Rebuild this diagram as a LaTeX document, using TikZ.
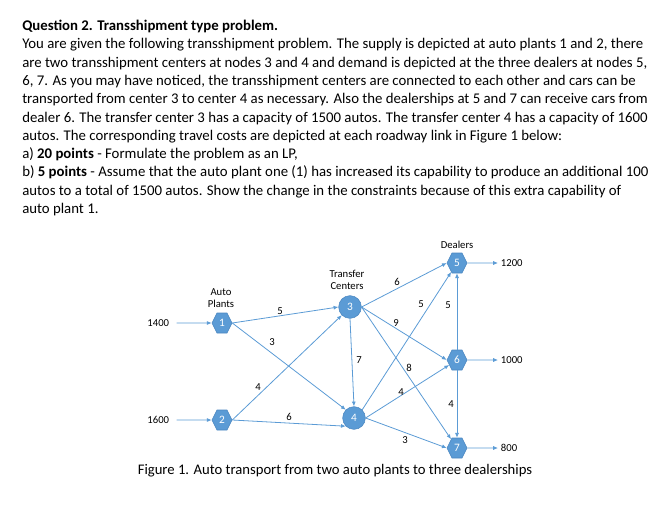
\documentclass[tikz,border=0pt]{standalone}
\usepackage{fontspec}
\setmainfont{Carlito}
\usetikzlibrary{shapes.symbols,arrows.meta}

\definecolor{officeblau}{HTML}{5B9BD5}
\definecolor{officerand}{HTML}{4A86C0}

\begin{document}
\begin{tikzpicture}[x=0.75pt, y=-0.75pt,
        every node/.style={font=\fontsize{8}{9}\selectfont},
        knoten/.style={fill=officeblau, draw=officerand, line width=0.4pt,
                       inner sep=0pt, text=white, font=\fontsize{8.5}{9}\selectfont},
        werk/.style={knoten, signal, signal to=east and west, signal pointer angle=127,
                     minimum width=15pt, minimum height=15pt},
        zentrum/.style={knoten, circle, minimum size=17pt},
        menge/.style={inner sep=2pt},
        kante/.style={draw=officeblau, line width=0.6pt,
                      -{Latex[length=3.6pt,width=3pt]}}
    ]
        \useasboundingbox (0,0) rectangle (671,506);

        \node[anchor=north west, inner sep=0pt, align=left,
              font=\fontsize{11.1}{13.7}\selectfont] (frage) at (22,20)
            {\textbf{Question 2. Transshipment type problem.}\\
             You are given the following transshipment problem. The supply is depicted at auto plants 1 and 2, there\\
             are two transshipment centers at nodes 3 and 4 and demand is depicted at the three dealers at nodes 5,\\
             6, 7. As you may have noticed, the transshipment centers are connected to each other and cars can be\\
             transported from center 3 to center 4 as necessary. Also the dealerships at 5 and 7 can receive cars from\\
             dealer 6. The transfer center 3 has a capacity of 1500 autos. The transfer center 4 has a capacity of 1600\\
             autos. The corresponding travel costs are depicted at each roadway link in Figure 1 below:\\
             a) \textbf{20 points} - Formulate the problem as an LP,\\
             b) \textbf{5 points} - Assume that the auto plant one (1) has increased its capability to produce an additional 100\\
             autos to a total of 1500 autos. Show the change in the constraints because of this extra capability of\\
             auto plant 1.};

        \node[werk]    (w1) at (222,323) {1};
        \node[werk]    (w2) at (222,420) {2};
        \node[zentrum] (z3) at (350,307) {3};
        \node[zentrum] (z4) at (354,418) {4};
        \node[werk]    (h5) at (457,263) {5};
        \node[werk]    (h6) at (457,360) {6};
        \node[werk]    (h7) at (457,448) {7};

        \node[align=center] (gw) at (221,298) {Auto\\Plants};
        \node[align=center] (gz) at (347,280) {Transfer\\Centers};
        \node (gh) at (457,245) {Dealers};

        \node[menge, anchor=east] (s1) at (172,323) {1400};
        \node[menge, anchor=east] (s2) at (172,420) {1600};
        \node[menge, anchor=west] (d5) at (498,263) {1200};
        \node[menge, anchor=west] (d6) at (498,360) {1000};
        \node[menge, anchor=west] (d7) at (498,448) {800};

        \draw[kante, shorten <=3.5pt] (s1) -- (w1);
        \draw[kante, shorten <=3.5pt] (s2) -- (w2);
        \foreach \a/\b in {h5/d5,h6/d6,h7/d7} \draw[kante] (\a) -- (\b);
        \foreach \a/\b in {w1.east/z3.west,w1.east/z4.north west,
                           w2.east/z3.south west,w2.east/z4.south west,
                           z3.south/z4.north,z3.east/h5.west,z3.east/h6.west,z3.east/h7,
                           z4.north east/h5,z4.east/h6,z4.east/h7.west,
                           h6.north/h5.south,h6.south/h7.north}
            \draw[kante] (\a) -- (\b);

        \foreach \t/\px/\py [count=\i] in {5/280/311,3/272/342,4/258/387,6/289/417,
                7/359/360,6/397/282,5/421/304,5/448/305,9/396/323,8/409/368,
                4/401/392,4/451/404,3/405/440}
            \node (k\i) at (\px,\py) {\t};

        \node[font=\fontsize{11}{13}\selectfont] (bild) at (335,471)
            {Figure 1. Auto transport from two auto plants to three dealerships};
    \end{tikzpicture}
\end{document}
